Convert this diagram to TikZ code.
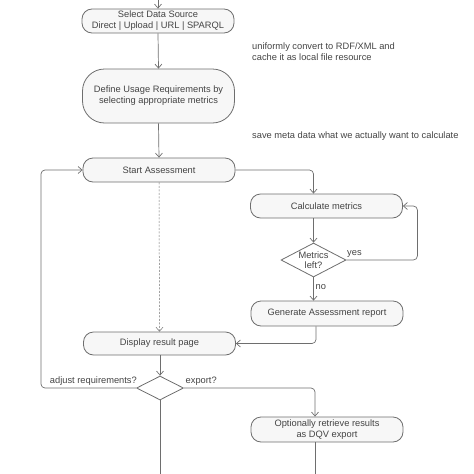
\documentclass[tikz,border=0pt]{standalone}
\usepackage{fontspec}
\setmainfont{Liberation Sans}
\usetikzlibrary{arrows.meta,shapes.geometric}
\definecolor{linec}{HTML}{6E6E6E}
\definecolor{boxfill}{HTML}{F7F7F7}
\definecolor{txt}{HTML}{444444}
\begin{document}
\begin{tikzpicture}[x=1pt,y=-1pt,
  font=\fontsize{9.3}{11}\selectfont, text=txt,
  stepbox/.style={draw=linec, fill=boxfill, line width=0.8pt, rounded corners=10pt,
    minimum width=152pt, minimum height=24pt, inner sep=0pt, align=center},
  decbox/.style={draw=linec, fill=white, line width=0.8pt, shape=diamond, inner sep=0pt},
  conn/.style={draw=linec, line width=0.7pt, rounded corners=4pt},
  arr/.style={conn, -{Straight Barb[length=4pt,width=7pt]}},
  note/.style={anchor=west, align=left, inner sep=0pt},
  lab/.style={inner sep=0pt}]
\useasboundingbox (0,0) rectangle (474,474);
\coordinate (top) at (158,0);
\node[stepbox] (src) at (158,21) {Select Data Source\\Direct | Upload | URL | SPARQL};
\node[stepbox, minimum height=54pt, rounded corners=22pt] (define) at (158.5,96) {Define Usage Requirements by\\selecting appropriate metrics};
\node[note] (n1) at (252,51.5) {uniformly convert to RDF/XML and\\cache it as local file resource};
\node[note] (n2) at (252,136) {save meta data what we actually want to calculate};
\node[stepbox] (start) at (159,170) {Start Assessment};
\node[stepbox] (calc) at (326.5,206) {Calculate metrics};
\node[decbox, minimum width=65pt, minimum height=34pt,
  label={[align=center, inner sep=0pt, font=\fontsize{9.3}{10.5}\selectfont]center:Metrics\\left?}] (dec1) at (313.5,260) {};
\node[stepbox, minimum height=25pt] (gen) at (327,313.5) {Generate Assessment report};
\node[stepbox, minimum height=23pt] (disp) at (159.5,343.5) {Display result page};
\node[decbox, minimum width=47pt, minimum height=24pt] (dec2) at (160,388) {};
\node[stepbox, minimum height=25pt] (opt) at (327,429.5) {Optionally retrieve results\\as DQV export};
\coordinate (bot1) at (160,474);
\coordinate (bot2) at (315,474);

\draw[arr] (top) -- (src.north);
\draw[arr] (src.south) -- (define.north);
\draw[arr] (define.south) -- (start.north);
\draw[arr, dashed, dash pattern=on 2pt off 1.5pt, line width=0.5pt] (start.south) -- (disp.north);
\draw[arr] (start.east) -| (dec1.north |- calc.north);
\draw[arr] (dec1.north |- calc.south) -- (dec1.north);
\draw[arr] (dec1.east) -- ++(71,0) |- (calc.east);
\draw[arr] (dec1.south) -- (dec1.south |- gen.north);
\draw[arr] (gen.south -| 316,0) |- (disp.east);
\draw[arr] (disp.south -| dec2.north) -- (dec2.north);
\draw[arr] (dec2.west) -| (41,300) |- (start.west);
\draw[arr] (dec2.east) -| (opt.north -| 315,0);
\draw[conn] (opt.south -| 315,0) -- (bot2);
\draw[conn] (dec2.south) -- (bot1);

\node[lab, anchor=west] (yes) at (347,254) {yes};
\node[lab, anchor=west] (no) at (315.5,287) {no};
\node[lab, anchor=east] (adj) at (137,381) {adjust requirements?};
\node[lab, anchor=west] (exp) at (185.5,381) {export?};
\end{tikzpicture}
\end{document}
